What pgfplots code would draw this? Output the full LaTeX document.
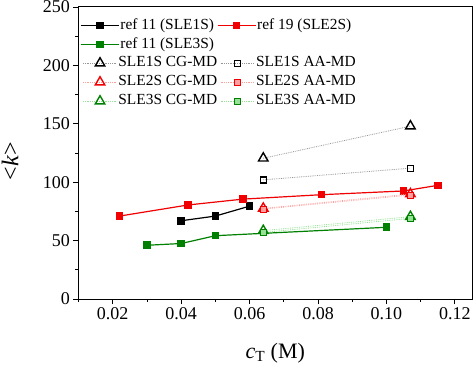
\documentclass[border=0pt]{standalone}
\usepackage{fontspec}
\setmainfont{Liberation Serif}
\usepackage{pgfplots}
\pgfplotsset{compat=1.18}
\definecolor{myred}{RGB}{240,0,0}
\definecolor{mygreen}{RGB}{0,128,0}
\definecolor{lightred}{RGB}{255,160,160}
\definecolor{lightgreen}{RGB}{150,225,150}
\definecolor{dotgray}{RGB}{150,150,150}
\begin{document}
\begin{tikzpicture}
\useasboundingbox (0,0) rectangle (474pt,367pt);
\pgfplotsset{
  common/.style={
    at={(78.5pt,68pt)}, anchor=south west, scale only axis,
    width=393.5pt, height=292pt,
    xmin=0.01, xmax=0.125, ymin=0, ymax=250,
  },
}
\begin{axis}[common,
  xtick={0.02,0.04,0.06,0.08,0.10,0.12},
  minor xtick={0.01,0.03,0.05,0.07,0.09,0.11},
  ytick={0,50,100,150,200,250},
  minor ytick={25,75,125,175,225},
  tick align=outside, xtick pos=bottom, ytick pos=left,
  major tick length=5pt, minor tick length=3pt,
  tick style={black, line width=0.8pt},
  axis line style={line width=1pt},
  ticklabel style={font=\fontsize{18}{20}\selectfont},
  /pgf/number format/assume math mode=true,
  xticklabel style={/pgf/number format/.cd, fixed, fixed zerofill, precision=2},
  scaled x ticks=false,
  xlabel={\textit{c}\textsubscript{T} (M)},
  ylabel={<\textit{k}>},
  xlabel style={font=\fontsize{22}{24}\selectfont, at={(axis description cs:0.5,0)}, anchor=base, yshift=-59pt},
  ylabel style={font=\fontsize{24}{26}\selectfont, at={(axis description cs:-0.1741,0.4726)}, anchor=center},
  legend columns=2,
  legend cell align=left,
  legend image code/.code={\draw[mark repeat=2,mark phase=2,#1] plot coordinates {(0pt,0pt) (19pt,0pt) (38pt,0pt)};},
  legend style={at={(axis description cs:0.004,0.966)}, anchor=north west, draw=none, fill=none,
    font=\fontsize{15.4}{17}\selectfont, inner sep=0pt, row sep=2.5pt,
    nodes={inner sep=1pt, text height=11pt, text depth=3.5pt},
    /tikz/every even column/.append style={column sep=2pt}},
]
\addplot[black, line width=1.2pt, mark=square*, mark size=3.2pt, mark options={solid}]
  coordinates {(0.040,67) (0.050,71) (0.060,79.5)};
\addlegendentry{ref 11 (SLE1S)}
\addplot[myred, line width=1.2pt, mark=square*, mark size=3.2pt, mark options={solid}]
  coordinates {(0.022,71) (0.042,80.5) (0.058,85.5) (0.081,89.3) (0.105,92.5) (0.115,97.3)};
\addlegendentry{ref 19 (SLE2S)}
\addplot[mygreen, line width=1.2pt, mark=square*, mark size=3.2pt, mark options={solid}]
  coordinates {(0.030,46) (0.040,47.5) (0.050,54.2) (0.100,61.4)};
\addlegendentry{ref 11 (SLE3S)}
\end{axis}
\begin{axis}[common, hide axis,
  legend columns=2,
  legend cell align=left,
  legend image code/.code={\draw[mark repeat=2,mark phase=2,#1] plot coordinates {(0pt,0pt) (17pt,0pt) (34pt,0pt)};},
  legend style={at={(axis description cs:0.01,0.8365)}, anchor=north west, draw=none, fill=none,
    font=\fontsize{15.4}{17}\selectfont, inner sep=0pt, row sep=2.5pt,
    nodes={inner sep=1pt, text height=11pt, text depth=3.5pt},
    /tikz/every even column/.append style={column sep=2pt}},
]
\addplot[dotgray, densely dotted, line width=0.8pt, mark=triangle, mark size=5.5pt, mark options={solid, black, line width=1.4pt}]
  coordinates {(0.064,120.5) (0.107,148)};
\addlegendentry{SLE1S CG-MD}
\addplot[dotgray, densely dotted, line width=0.8pt, mark=square, mark size=3pt, mark options={solid, black, line width=1.3pt}]
  coordinates {(0.064,102) (0.107,112)};
\addlegendentry{SLE1S AA-MD}
\addplot[lightred, densely dotted, line width=0.8pt, mark=triangle, mark size=5.5pt, mark options={solid, myred, line width=1.4pt}]
  coordinates {(0.064,77.6) (0.107,89.9)};
\addlegendentry{SLE2S CG-MD}
\addplot[lightred, densely dotted, line width=0.8pt, mark=square*, mark size=3pt, mark options={solid, draw=myred, fill=lightred, line width=1pt}]
  coordinates {(0.064,77) (0.107,89)};
\addlegendentry{SLE2S AA-MD}
\addplot[lightgreen, densely dotted, line width=0.8pt, mark=triangle, mark size=5.5pt, mark options={solid, mygreen, line width=1.4pt}]
  coordinates {(0.064,58.5) (0.107,70.5)};
\addlegendentry{SLE3S CG-MD}
\addplot[lightgreen, densely dotted, line width=0.8pt, mark=square*, mark size=3pt, mark options={solid, draw=mygreen, fill=lightgreen, line width=1pt}]
  coordinates {(0.064,57) (0.107,69)};
\addlegendentry{SLE3S AA-MD}
\end{axis}
\end{tikzpicture}
\end{document}
